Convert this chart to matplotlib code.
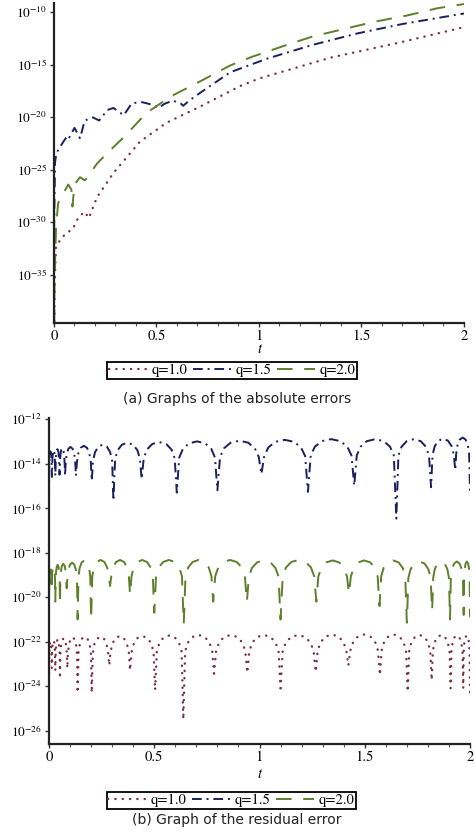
import matplotlib.pyplot as plt
from matplotlib.ticker import NullLocator, MultipleLocator

# (a) absolute errors -- t and log10(error)
abs_t_q10 = [0, 0.003, 0.01, 0.03, 0.06, 0.09, 0.12, 0.15, 0.17, 0.21, 0.29, 0.42, 0.55, 0.71, 0.91, 1.0, 1.35, 1.69, 2.0]
abs_v_q10 = [-45, -36, -32.3, -31.7, -31.0, -30.7, -29.5, -29.0, -29.6, -27.6, -25.3, -22.3, -20.5, -19.0, -17.0, -16.3, -14.3, -12.85, -11.4]

abs_t_q15 = [0, 0.001, 0.005, 0.012, 0.03, 0.05, 0.068, 0.075, 0.10, 0.127, 0.15, 0.19, 0.22, 0.26, 0.29, 0.34,
             0.38, 0.43, 0.48, 0.51, 0.54, 0.58, 0.62, 0.63, 0.66, 0.71, 0.86, 1.04, 1.26, 1.48, 1.70, 2.0]
abs_v_q15 = [-45, -30, -24.3, -23.4, -22.8, -22.2, -21.7, -21.9, -21.0, -22.0, -20.3, -20.0, -20.3, -19.3, -19.1, -19.8,
             -18.65, -18.55, -18.8, -19.1, -18.7, -18.4, -18.7, -18.9, -18.4, -17.7, -15.7, -14.4, -13.1, -12.0, -11.1, -10.1]

abs_t_q20 = [0, 0.002, 0.01, 0.02, 0.04, 0.07, 0.085, 0.09, 0.10, 0.127, 0.15, 0.16, 0.185, 0.21, 0.26, 0.34,
             0.45, 0.57, 0.70, 0.86, 0.97, 1.12, 1.26, 1.41, 1.56, 1.72, 1.87, 2.0]
abs_v_q20 = [-45, -36, -30.5, -28.2, -27.4, -26.4, -26.9, -28.5, -26.4, -25.7, -26.0, -25.8, -25.1, -24.4, -23.4, -21.9,
             -19.6, -18.0, -16.7, -15.05, -14.2, -13.2, -12.3, -11.6, -10.9, -10.3, -9.6, -9.2]

# (b) residual error -- zeros (dips), dip depth and arch tops, log10
res_dip_t_q15 = [0.0, 0.014, 0.03, 0.05, 0.076, 0.128, 0.203, 0.306, 0.44, 0.607, 0.80, 1.009, 1.23, 1.45, 1.65, 1.815, 1.93, 2.0]
res_dip_v_q15 = [-15.5, -14.6, -14.55, -14.5, -14.55, -14.55, -14.77, -15.66, -14.7, -15.3, -15.2, -14.47, -15.27, -14.99, -16.47, -15.06, -14.3, -15.27]
res_top_v_q15 = [-13.45, -13.4, -13.35, -13.3, -13.25, -13.2, -13.15, -13.06, -13.03, -13.0, -12.97, -12.93, -12.9, -12.9, -12.9, -12.88, -12.83]

res_dip_t_q20 = [0.0, 0.012, 0.03, 0.052, 0.084, 0.136, 0.20, 0.29, 0.385, 0.50, 0.64, 0.78, 0.94, 1.10, 1.27, 1.425, 1.57, 1.70, 1.82, 1.905, 1.97, 2.0]
res_dip_v_q20 = [-19.9, -19.7, -20.2, -20.3, -19.6, -21.0, -21.0, -19.5, -19.9, -20.7, -21.2, -20.2, -20.2, -21.0, -20.2, -19.85, -20.4, -21.15, -20.6, -21.0, -20.8, -20.9]
res_top_v_q20 = [-18.7, -18.6, -18.55, -18.5, -18.45, -18.35, -18.33, -18.33, -18.33, -18.33, -18.33, -18.33, -18.35, -18.33, -18.35, -18.35, -18.35, -18.4, -18.4, -18.4, -18.4]

res_dip_t_q10 = [0.0, 0.013, 0.03, 0.052, 0.087, 0.136, 0.203, 0.286, 0.385, 0.504, 0.638, 0.784, 0.942, 1.10, 1.267, 1.422, 1.572, 1.704, 1.818, 1.908, 1.968, 2.0]
res_dip_v_q10 = [-23.4, -23.2, -23.3, -23.66, -23.2, -24.3, -24.3, -23.07, -23.29, -24.18, -25.5, -23.44, -23.4, -24.1, -23.36, -23.07, -23.51, -24.25, -23.73, -24.1, -24.1, -24.4]
res_top_v_q10 = [-22.0, -21.95, -21.9, -21.85, -21.8, -21.78, -21.78, -21.75, -21.75, -21.72, -21.7, -21.7, -21.7, -21.7, -21.68, -21.68, -21.68, -21.7, -21.7, -21.72, -21.72]

labels = ['q=1.0', 'q=1.5', 'q=2.0']
yticks_a = [-35, -30, -25, -20, -15, -10]
yticks_b = [-26, -24, -22, -20, -18, -16, -14, -12]

# shape of one arch between two zeros (fraction of the interval, drop below top)
arch_shape = [(0.06, 0.73), (0.15, 0.34), (0.3, 0.09), (0.5, 0.0), (0.7, 0.09), (0.85, 0.34), (0.94, 0.73)]


def arches(dip_t, dip_v, top_v):
    ts, vs = [], []
    for i in range(len(top_v)):
        a, b = dip_t[i], dip_t[i + 1]
        ts.append(a)
        vs.append(dip_v[i])
        for f, drop in arch_shape:
            ts.append(a + f * (b - a))
            vs.append(top_v[i] - drop)
    ts.append(dip_t[-1])
    vs.append(dip_v[-1])
    return ts, [10.0 ** v for v in vs]


c10, c15, c20 = '#7a2e3e', '#1b1f5e', '#5e7f2b'
st10 = dict(color=c10, lw=1.7, ls=(0, (0.1, 3.0)), dash_capstyle='round')
st15 = dict(color=c15, lw=1.4, ls=(0, (5, 2.5, 1, 2.5)))
st20 = dict(color=c20, lw=1.4, ls=(0, (8, 6)))

serif = 'STIXGeneral'
plt.rcParams['mathtext.fontset'] = 'stix'

fig = plt.figure(figsize=(4.74, 8.34), dpi=100)
ax1 = fig.add_axes([0.1139, 0.6127, 0.865, 0.3837])
ax2 = fig.add_axes([0.1034, 0.1079, 0.8882, 0.3909])

ax1.plot(abs_t_q10, [10.0 ** v for v in abs_v_q10], label=labels[0], **st10)
ax1.plot(abs_t_q15, [10.0 ** v for v in abs_v_q15], label=labels[1], **st15)
ax1.plot(abs_t_q20, [10.0 ** v for v in abs_v_q20], label=labels[2], **st20)

t, v = arches(res_dip_t_q10, res_dip_v_q10, res_top_v_q10)
ax2.plot(t, v, label=labels[0], **st10)
t, v = arches(res_dip_t_q15, res_dip_v_q15, res_top_v_q15)
ax2.plot(t, v, label=labels[1], **st15)
t, v = arches(res_dip_t_q20, res_dip_v_q20, res_top_v_q20)
ax2.plot(t, v, label=labels[2], **st20)

for ax, yt, ylo, yhi in [(ax1, yticks_a, -39.6, -9.1), (ax2, yticks_b, -26.6, -11.95)]:
    ax.set_yscale('log')
    ax.set_xlim(0, 2)
    ax.set_ylim(10.0 ** ylo, 10.0 ** yhi)
    ax.set_yticks([10.0 ** k for k in yt])
    ax.set_yticklabels(['$10^{%d}$' % k for k in yt], fontsize=9.5)
    ax.yaxis.set_minor_locator(NullLocator())
    ax.set_xticks([0, 0.5, 1, 1.5, 2])
    ax.set_xticklabels(['0', '0.5', '1', '1.5', '2'], family=serif, fontsize=10.5)
    ax.xaxis.set_minor_locator(MultipleLocator(0.1))
    ax.tick_params(axis='both', which='major', length=3, width=1, color='#333', pad=2)
    ax.tick_params(axis='x', which='minor', length=2, width=0.8, color='#555')
    ax.spines[['top', 'right']].set_visible(False)
    for s in ('left', 'bottom'):
        ax.spines[s].set_linewidth(1.6)
        ax.spines[s].set_color('#222')

fig.text(259 / 474, 1 - 349 / 834, 't', family=serif, style='italic', fontsize=10.5, ha='center', va='center')
fig.text(259.5 / 474, 1 - 774 / 834, 't', family=serif, style='italic', fontsize=10.5, ha='center', va='center')

leg_kw = dict(loc='center', bbox_transform=fig.transFigure, ncol=3, columnspacing=0.4, handlelength=2.6,
              handletextpad=0.3, borderpad=0.12, borderaxespad=0, fancybox=False, edgecolor='black',
              framealpha=1, prop=dict(family=serif, size=10.5))
lg = ax1.legend(bbox_to_anchor=(232 / 474, 1 - 370.5 / 834), **leg_kw)
lg.get_frame().set_linewidth(1.3)
lg = ax2.legend(bbox_to_anchor=(231.5 / 474, 1 - 800.5 / 834), **leg_kw)
lg.get_frame().set_linewidth(1.3)

fig.text(0.5, 1 - 399 / 834, '(a) Graphs of the absolute errors', ha='center', va='center',
         fontsize=10, color='#222')
fig.text(0.5, 1 - 820 / 834, '(b) Graph of the residual error', ha='center', va='center',
         fontsize=10, color='#222')

fig.savefig('out.png', dpi=100)
